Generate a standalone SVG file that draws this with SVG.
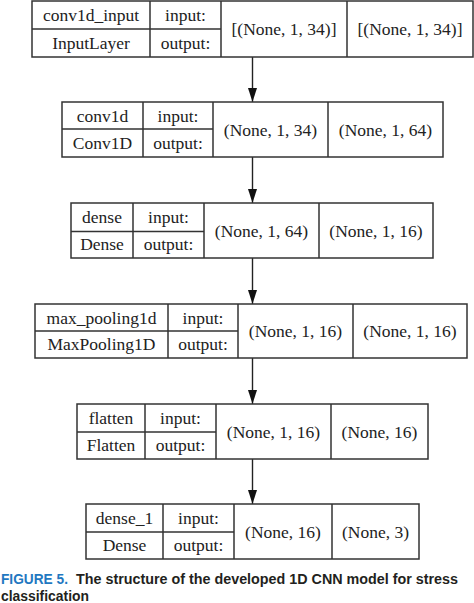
<svg xmlns="http://www.w3.org/2000/svg" width="474" height="603" viewBox="0 0 474 603">
<defs>
<style>
.box{fill:#fff;stroke:#333;stroke-width:1.5}
.ln{stroke:#333;stroke-width:1.5;fill:none}
.t{font-family:"Liberation Serif","Times New Roman",serif;font-size:17.5px;fill:#222;text-anchor:middle}
.edge{stroke:#222;stroke-width:1.4;fill:none}
.cap{font-family:"Liberation Sans",Arial,sans-serif;font-weight:bold;font-size:14px}
</style>
<marker id="ah" markerWidth="14" markerHeight="9" refX="14" refY="4.5" orient="auto" markerUnits="userSpaceOnUse" viewBox="0 0 14 9">
<path d="M0,0 L14,4.5 L0,9 Z" fill="#111"/>
</marker>
</defs>
<rect width="474" height="603" fill="#fff"/>
<g id="connectors">
<line class="edge" x1="252.5" y1="57" x2="252.5" y2="102" marker-end="url(#ah)"/>
<line class="edge" x1="252.5" y1="157" x2="252.5" y2="203" marker-end="url(#ah)"/>
<line class="edge" x1="252.5" y1="258" x2="252.5" y2="304" marker-end="url(#ah)"/>
<line class="edge" x1="252.5" y1="358" x2="252.5" y2="404" marker-end="url(#ah)"/>
<line class="edge" x1="252.5" y1="459" x2="252.5" y2="504" marker-end="url(#ah)"/>
</g>
<g id="conv1d_input">
<rect class="box" x="32" y="1" width="441" height="56"/>
<path class="ln" d="M150,1V57M221,1V57M347,1V57M32,29H221"/>
<text class="t" x="91" y="21">conv1d_input</text>
<text class="t" x="91" y="49">InputLayer</text>
<text class="t" x="185.5" y="21">input:</text>
<text class="t" x="185.5" y="49">output:</text>
<text class="t" x="284" y="35">[(None, 1, 34)]</text>
<text class="t" x="410" y="35">[(None, 1, 34)]</text>
</g>
<g id="conv1d">
<rect class="box" x="62" y="102" width="381" height="55"/>
<path class="ln" d="M143,102V157M213,102V157M328,102V157M62,129H213"/>
<text class="t" x="102.5" y="121.5">conv1d</text>
<text class="t" x="102.5" y="149">Conv1D</text>
<text class="t" x="178" y="121.5">input:</text>
<text class="t" x="178" y="149">output:</text>
<text class="t" x="270.5" y="135.5">(None, 1, 34)</text>
<text class="t" x="385.5" y="135.5">(None, 1, 64)</text>
</g>
<g id="dense">
<rect class="box" x="71" y="203" width="362" height="55"/>
<path class="ln" d="M133,203V258M204,203V258M319,203V258M71,231.5H204"/>
<text class="t" x="102" y="223">dense</text>
<text class="t" x="102" y="250">Dense</text>
<text class="t" x="168.5" y="223">input:</text>
<text class="t" x="168.5" y="250">output:</text>
<text class="t" x="261.5" y="236.5">(None, 1, 64)</text>
<text class="t" x="376" y="236.5">(None, 1, 16)</text>
</g>
<g id="max_pooling1d">
<rect class="box" x="35" y="304" width="432" height="54"/>
<path class="ln" d="M168,304V358M238,304V358M353,304V358M35,331H238"/>
<text class="t" x="101.5" y="323.5">max_pooling1d</text>
<text class="t" x="101.5" y="350">MaxPooling1D</text>
<text class="t" x="203" y="323.5">input:</text>
<text class="t" x="203" y="350">output:</text>
<text class="t" x="295.5" y="337">(None, 1, 16)</text>
<text class="t" x="410" y="337">(None, 1, 16)</text>
</g>
<g id="flatten">
<rect class="box" x="77" y="404" width="351" height="55"/>
<path class="ln" d="M145,404V459M216,404V459M331,404V459M77,432H216"/>
<text class="t" x="111" y="424">flatten</text>
<text class="t" x="111" y="451">Flatten</text>
<text class="t" x="180.5" y="424">input:</text>
<text class="t" x="180.5" y="451">output:</text>
<text class="t" x="273.5" y="437.5">(None, 1, 16)</text>
<text class="t" x="379.5" y="437.5">(None, 16)</text>
</g>
<g id="dense_1">
<rect class="box" x="86" y="504" width="333" height="55"/>
<path class="ln" d="M163,504V559M234,504V559M332,504V559M86,532H234"/>
<text class="t" x="124.5" y="524">dense_1</text>
<text class="t" x="124.5" y="551">Dense</text>
<text class="t" x="198.5" y="524">input:</text>
<text class="t" x="198.5" y="551">output:</text>
<text class="t" x="283" y="537.5">(None, 16)</text>
<text class="t" x="375.5" y="537.5">(None, 3)</text>
</g>
<g id="caption">
<text class="cap" x="1" y="583.5" fill="#1f78c1" textLength="67" lengthAdjust="spacingAndGlyphs">FIGURE 5.</text>
<text class="cap" x="76" y="583.5" fill="#231f20" textLength="382" lengthAdjust="spacingAndGlyphs">The structure of the developed 1D CNN model for stress</text>
<text class="cap" x="1" y="600.5" fill="#231f20" textLength="88" lengthAdjust="spacingAndGlyphs">classification</text>
</g>
</svg>
